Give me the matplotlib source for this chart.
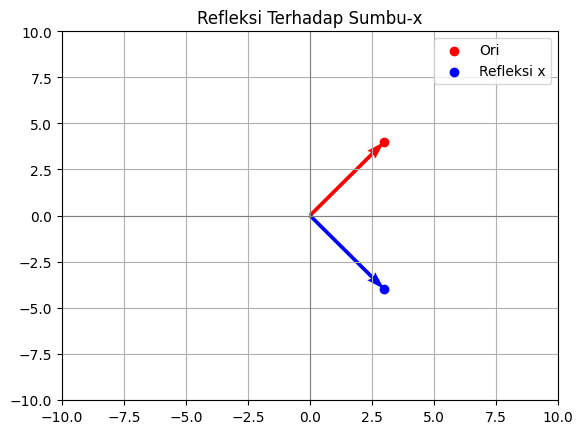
import matplotlib
matplotlib.use('Agg')
import matplotlib.pyplot as plt
import numpy as np

# data
ori = [3, 4]
refleksi = [3, -4]
labels = ['Ori', 'Refleksi x']
colors = ['red', 'blue']

fig = plt.figure(figsize=(5.83, 4.35), dpi=100)
ax = fig.add_axes([62/583, 1-401/435, 496/583, 369/435])

ax.axhline(0, color='gray', linewidth=0.8)
ax.axvline(0, color='gray', linewidth=0.8)

vecs = [ori, refleksi]
for v, c, lab in zip(vecs, colors, labels):
    ax.quiver(0, 0, v[0], v[1], angles='xy', scale_units='xy', scale=1, color=c)
    ax.scatter(v[0], v[1], color=c, label=lab, zorder=3)

ax.set_xlim(-10, 10)
ax.set_ylim(-10, 10)
ax.grid(True)
ax.legend()
ax.set_title('Refleksi Terhadap Sumbu-x')

fig.savefig('out.png')
